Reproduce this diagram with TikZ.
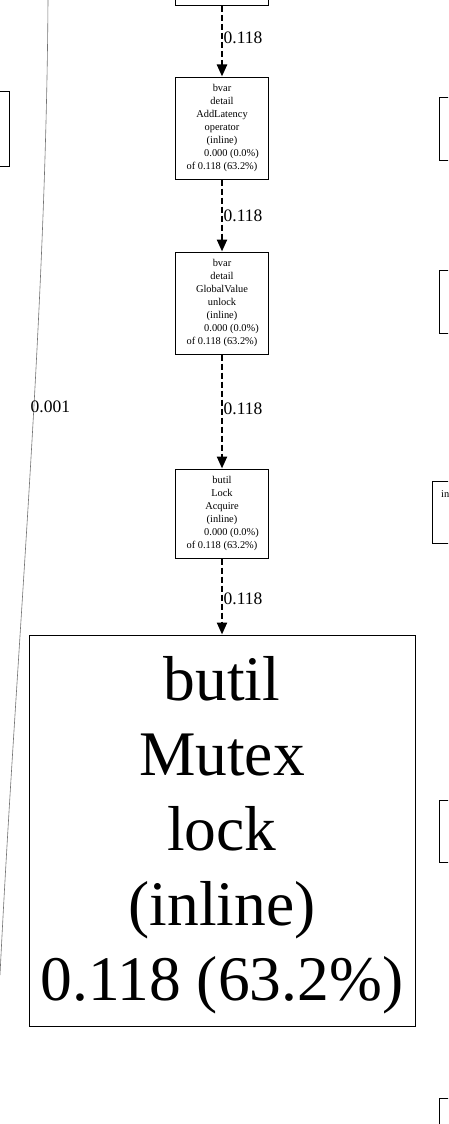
\documentclass[tikz,border=0pt]{standalone}
\usepackage{fontspec}
\setmainfont{Liberation Serif}
\usetikzlibrary{arrows.meta}

\tikzset{
  fnbox/.style={draw, line width=1pt, inner sep=0pt, align=center,
    minimum width=93pt, font=\fontsize{10.4}{13}\selectfont},
  bigfn/.style={draw, line width=1pt, inner sep=0pt, align=center,
    minimum width=386pt, minimum height=391pt, font=\fontsize{63.5}{75}\selectfont},
  sidefn/.style={draw, line width=1pt, inner sep=0pt, minimum width=70pt},
  hotcall/.style={line width=2.3pt, dash pattern=on 6pt off 3pt,
    -{Triangle[length=12pt,width=10pt]}},
  coldcall/.style={draw=black!55, line width=0.6pt},
  weight/.style={anchor=west, inner sep=0.5pt, font=\fontsize{17.5}{20}\selectfont}
}

\begin{document}
\begin{tikzpicture}[x=1pt,y=-1pt]
  \useasboundingbox (0,0) rectangle (448,1124);
  \clip (0,0) rectangle (448,1124);

  % Call chain
  \node[fnbox, minimum height=102pt, anchor=south] (topfn) at (222,6) {};
  \node[fnbox, minimum height=102pt] (addlat) at (222,128)
    {bvar\\detail\\AddLatency\\operator\\(inline)\\\hspace*{19pt}0.000 (0.0\%)\\of 0.118 (63.2\%)};
  \node[fnbox, minimum height=102pt] (gvunlock) at (222,303)
    {bvar\\detail\\GlobalValue\\unlock\\(inline)\\\hspace*{19pt}0.000 (0.0\%)\\of 0.118 (63.2\%)};
  \node[fnbox, minimum height=89pt] (lockacq) at (222,513.5)
    {butil\\Lock\\Acquire\\(inline)\\\hspace*{19pt}0.000 (0.0\%)\\of 0.118 (63.2\%)};
  \node[bigfn] (mutexlock) at (222,830.5)
    {\rule{0pt}{54pt}butil\\Mutex\\lock\\(inline)\\0.118 (63.2\%)};

  \draw[hotcall] (topfn) -- node[weight, yshift=3pt] {0.118} (addlat);
  \draw[hotcall] (addlat) -- node[weight] {0.118} (gvunlock);
  \draw[hotcall] (gvunlock) -- node[weight, yshift=3pt] {0.118} (lockacq);
  \draw[hotcall] (lockacq) -- node[weight, yshift=-2pt] {0.118} (mutexlock);

  % Neighbouring boxes, cut by the frame
  \node[sidefn, minimum height=75pt, anchor=north east] (leftfn) at (10,91) {};
  \node[sidefn, minimum height=63pt, anchor=north west] (rightfnA) at (439,97) {};
  \node[sidefn, minimum height=63pt, anchor=north west] (rightfnB) at (439,270) {};
  \node[sidefn, minimum height=62pt, anchor=north west] (rightfnC) at (432,481) {};
  \node[anchor=base west, inner sep=0pt, font=\fontsize{10.4}{13}\selectfont] (rightfnCtext) at (441,497) {in};
  \node[sidefn, minimum height=62pt, anchor=north west] (rightfnD) at (439,800) {};
  \node[sidefn, minimum height=60pt, anchor=north west] (rightfnE) at (439,1098) {};

  % Light edge on the left
  \coordinate (coldtail) at (48,-1);
  \coordinate (coldhead) at (0,975);
  \draw[coldcall] (coldtail) .. controls (46,325) and (16,650) .. (coldhead);
  \node[weight] (coldw) at (30,407) {0.001};
\end{tikzpicture}
\end{document}
